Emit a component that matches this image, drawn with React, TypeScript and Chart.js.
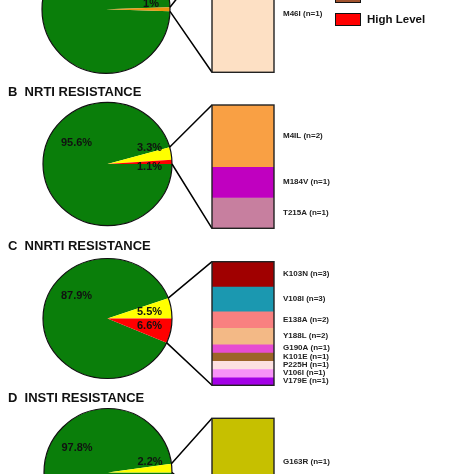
import React, { useEffect, useRef } from 'react';
import { Chart, registerables } from 'chart.js';

Chart.register(...registerables);

// ---------------- data ----------------
const sectionTitles = ['', 'B  NRTI RESISTANCE', 'C  NNRTI RESISTANCE', 'D  INSTI RESISTANCE'];

const piPieValues = [99, 1];
const piPieColors = ['#0A7E0A', '#E8960F'];
const piMutations = ['M46I'];
const piCounts = [1];
const piMutationColors = ['#FDE0C4'];

const nrtiPieValues = [95.6, 3.3, 1.1];
const nrtiPieColors = ['#0A7E0A', '#FFFF00', '#FF0000'];
const nrtiMutations = ['M4IL', 'M184V', 'T215A'];
const nrtiCounts = [2, 1, 1];
const nrtiMutationColors = ['#F9A044', '#C000C0', '#C77F9F'];

const nnrtiPieValues = [87.9, 5.5, 6.6];
const nnrtiPieColors = ['#0A7E0A', '#FFFF00', '#FF0000'];
const nnrtiMutations = ['K103N', 'V108I', 'E138A', 'Y188L', 'G190A', 'K101E', 'P225H', 'V106I', 'V179E'];
const nnrtiCounts = [3, 3, 2, 2, 1, 1, 1, 1, 1];
const nnrtiMutationColors = ['#A00000', '#1B98B0', '#F98080', '#F3B986', '#E64CD2', '#9C6428', '#FDE1E1', '#F792F7', '#A300E6'];

const instiPieValues = [97.8, 2.2];
const instiPieColors = ['#0A7E0A', '#FFFF00'];
const instiMutations = ['G163R'];
const instiCounts = [1];
const instiMutationColors = ['#C6C000'];

const legendLabels = ['High Level'];
const legendColors = ['#FF0000'];
const legendExtraBoxColor = '#A0522D';

// ---------------- layout ----------------
const FONT = '"Liberation Sans", Arial, Helvetica, sans-serif';
const W = 474;

type Layout = {
  top: number; height: number;
  cx: number; cy: number; r: number; sy: number; abovePct: number;
  mainLabel: [number, number]; smallDx: number; smallDy: number[];
  barLeft: number; barRight: number; barTop: number; barBottom: number;
  titleY: number;
};

const layouts: Layout[] = [
  { top: -100, height: 180, cx: 106, cy: 109.3, r: 64, sy: 1, abovePct: 0.5,
    mainLabel: [-31, -21], smallDx: 45, smallDy: [-5],
    barLeft: 212, barRight: 274, barTop: 54.3, barBottom: 172.3, titleY: 0 },
  { top: 80, height: 160, cx: 107.5, cy: 84, r: 64.5, sy: 0.955, abovePct: 4.4,
    mainLabel: [-31, -20.7], smallDx: 42, smallDy: [-15.7, 3.3],
    barLeft: 212, barRight: 274, barTop: 25, barBottom: 148.3, titleY: 91 },
  { top: 235, height: 160, cx: 107.5, cy: 83.5, r: 64.5, sy: 0.93, abovePct: 5.5,
    mainLabel: [-31, -22.8], smallDx: 42, smallDy: [-6.2, 7.2],
    barLeft: 212, barRight: 274, barTop: 26.7, barBottom: 150.3, titleY: 245.5 },
  { top: 390, height: 200, cx: 108, cy: 82.5, r: 64, sy: 1, abovePct: 2.2,
    mainLabel: [-31, -24.2], smallDx: 42, smallDy: [-10.5],
    barLeft: 212, barRight: 274, barTop: 28.3, barBottom: 115, titleY: 397 },
];

type PanelData = {
  pieValues: number[]; pieColors: string[];
  mutations: string[]; counts: number[]; mutationColors: string[];
};

const panels: PanelData[] = [
  { pieValues: piPieValues, pieColors: piPieColors, mutations: piMutations, counts: piCounts, mutationColors: piMutationColors },
  { pieValues: nrtiPieValues, pieColors: nrtiPieColors, mutations: nrtiMutations, counts: nrtiCounts, mutationColors: nrtiMutationColors },
  { pieValues: nnrtiPieValues, pieColors: nnrtiPieColors, mutations: nnrtiMutations, counts: nnrtiCounts, mutationColors: nnrtiMutationColors },
  { pieValues: instiPieValues, pieColors: instiPieColors, mutations: instiMutations, counts: instiCounts, mutationColors: instiMutationColors },
];

function Panel({ data, layout }: { data: PanelData; layout: Layout }) {
  const pieRef = useRef<HTMLCanvasElement>(null);
  const barRef = useRef<HTMLCanvasElement>(null);

  useEffect(() => {
    const H = layout.height;
    const { cx, cy, r, sy } = layout;
    const total = data.pieValues.reduce((a, b) => a + b, 0);
    const aboveDeg = (layout.abovePct / total) * 360;
    const greenDeg = (data.pieValues[0] / total) * 360;

    const ellipsePlugin = {
      id: 'ellipsePie',
      beforeDatasetsDraw(chart: any) {
        const el = chart.getDatasetMeta(0).data[0];
        const ctx = chart.ctx;
        ctx.save();
        ctx.translate(0, el.y);
        ctx.scale(1, sy);
        ctx.translate(0, -el.y);
      },
      afterDatasetsDraw(chart: any) {
        const el = chart.getDatasetMeta(0).data[0];
        const ctx = chart.ctx;
        ctx.beginPath();
        ctx.arc(el.x, el.y, el.outerRadius, 0, Math.PI * 2);
        ctx.lineWidth = 1.2;
        ctx.strokeStyle = '#111';
        ctx.stroke();
        ctx.restore();
        ctx.save();
        ctx.font = `bold 11px ${FONT}`;
        ctx.fillStyle = '#111';
        ctx.textAlign = 'center';
        ctx.textBaseline = 'middle';
        const vals = data.pieValues;
        ctx.fillText(`${vals[0]}%`, el.x + layout.mainLabel[0], el.y + layout.mainLabel[1]);
        for (let i = 1; i < vals.length; i++) {
          ctx.fillText(`${vals[i]}%`, el.x + layout.smallDx, el.y + layout.smallDy[i - 1]);
        }
        ctx.restore();
      },
    };

    const pieChart = new Chart(pieRef.current as HTMLCanvasElement, {
      type: 'pie',
      data: {
        labels: data.pieValues.map((_, i) => String(i)),
        datasets: [{
          data: data.pieValues,
          backgroundColor: data.pieColors,
          borderWidth: 0,
        }],
      },
      options: {
        responsive: true,
        maintainAspectRatio: false,
        animation: false,
        events: [],
        rotation: 90 - aboveDeg - greenDeg,
        layout: { padding: { left: cx - r, right: W - cx - r, top: cy - r, bottom: H - cy - r } },
        plugins: { legend: { display: false }, tooltip: { enabled: false } },
      } as any,
      plugins: [ellipsePlugin],
    });

    const barTotal = data.counts.reduce((a, b) => a + b, 0);
    const connectorPlugin = {
      id: 'connectors',
      afterDatasetsDraw(chart: any) {
        const ctx = chart.ctx;
        const yScale = chart.scales.y;
        const el0 = chart.getDatasetMeta(0).data[0];
        const left = el0.x - el0.width / 2;
        const right = el0.x + el0.width / 2;
        const top = yScale.getPixelForValue(0);
        const bottom = yScale.getPixelForValue(barTotal);
        const arcs = pieChart.getDatasetMeta(0).data as any[];
        const first = arcs[1];
        const last = arcs[arcs.length - 1];
        const R = first.outerRadius;
        const p1 = { x: first.x + R * Math.cos(first.startAngle), y: first.y + R * sy * Math.sin(first.startAngle) };
        const p2 = { x: last.x + R * Math.cos(last.endAngle), y: last.y + R * sy * Math.sin(last.endAngle) };
        ctx.save();
        ctx.strokeStyle = '#000';
        ctx.lineWidth = 1.5;
        ctx.beginPath();
        ctx.moveTo(p1.x, p1.y);
        ctx.lineTo(left, top);
        ctx.moveTo(p2.x, p2.y);
        ctx.lineTo(left, bottom);
        ctx.stroke();
        ctx.lineWidth = 1.4;
        ctx.strokeStyle = '#222';
        ctx.strokeRect(left, top, right - left, bottom - top);
        ctx.font = `bold 8px ${FONT}`;
        ctx.fillStyle = '#222';
        ctx.textAlign = 'left';
        ctx.textBaseline = 'middle';
        data.mutations.forEach((m, i) => {
          const el = chart.getDatasetMeta(i).data[0];
          const mid = (el.y + el.base) / 2;
          ctx.fillText(`${m} (n=${data.counts[i]})`, right + 9, mid);
        });
        ctx.restore();
      },
    };

    const barChart = new Chart(barRef.current as HTMLCanvasElement, {
      type: 'bar',
      data: {
        labels: ['mutations'],
        datasets: data.mutations.map((m, i) => ({
          label: m,
          data: [data.counts[i]],
          backgroundColor: data.mutationColors[i],
          borderWidth: 0,
          categoryPercentage: 1,
          barPercentage: 1,
          stack: 's',
        })),
      },
      options: {
        responsive: true,
        maintainAspectRatio: false,
        animation: false,
        events: [],
        layout: { padding: { left: layout.barLeft, right: W - layout.barRight, top: layout.barTop, bottom: H - layout.barBottom } },
        scales: {
          x: { display: false, stacked: true },
          y: { display: false, stacked: true, reverse: true, min: 0, max: barTotal },
        },
        plugins: { legend: { display: false }, tooltip: { enabled: false } },
      } as any,
      plugins: [connectorPlugin],
    });

    return () => {
      barChart.destroy();
      pieChart.destroy();
    };
  }, [data, layout]);

  const layer: React.CSSProperties = { position: 'absolute', left: 0, top: 0, width: W, height: layout.height };
  return (
    <div style={{ position: 'absolute', left: 0, top: layout.top, width: W, height: layout.height }}>
      <div style={layer}><canvas ref={pieRef} /></div>
      <div style={layer}><canvas ref={barRef} /></div>
    </div>
  );
}

export default function App() {
  return (
    <div style={{ position: 'absolute', left: 0, top: 0, width: W, height: 474, overflow: 'hidden', background: '#fff' }}>
      {panels.map((p, i) => (
        <Panel key={i} data={p} layout={layouts[i]} />
      ))}
      {sectionTitles.map((t, i) => t ? (
        <div key={'t' + i} style={{ position: 'absolute', left: 8, top: layouts[i].titleY - 7.5, font: `bold 13px ${FONT}`, lineHeight: '15px', whiteSpace: 'pre', color: '#111' }}>{t}</div>
      ) : null)}
      <div style={{ position: 'absolute', left: 335, top: -9.5, width: 26, height: 12.5, background: legendExtraBoxColor, border: '1.2px solid #111', boxSizing: 'border-box' }} />
      {legendLabels.map((l, i) => (
        <React.Fragment key={'l' + i}>
          <div style={{ position: 'absolute', left: 335, top: 13.3 + i * 22, width: 26, height: 12.7, background: legendColors[i], border: '1.2px solid #111', boxSizing: 'border-box' }} />
          <div style={{ position: 'absolute', left: 367, top: 12 + i * 22, font: `bold 11.5px ${FONT}`, lineHeight: '14px', color: '#111', whiteSpace: 'pre' }}>{l}</div>
        </React.Fragment>
      ))}
    </div>
  );
}
